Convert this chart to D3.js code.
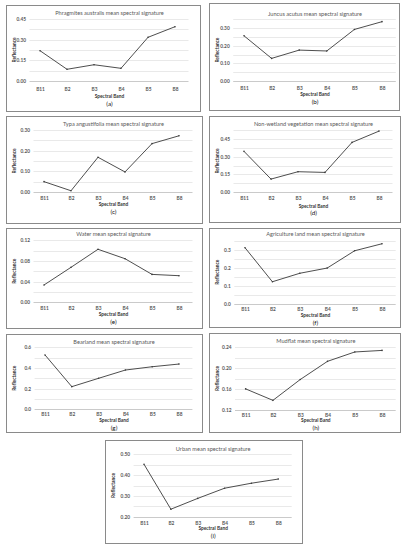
<!DOCTYPE html>
<html>
<head>
<meta charset="utf-8">
<script src="https://cdn.jsdelivr.net/npm/d3@7"></script>
<style>
html,body{margin:0;padding:0;background:#fff;}
svg{display:block;}
</style>
</head>
<body>
<svg id="chart" width="404" height="550"></svg>
<script>
// ---------- data ----------
const bands = ["B11", "B2", "B3", "B4", "B5", "B8"];
const titles = [
  "Phragmites australis mean spectral signature",
  "Juncus acutus mean spectral signature",
  "Typa angustifolia mean spectral signature",
  "Non-wetland vegetation mean spectral signature",
  "Water mean spectral signature",
  "Agriculture land mean spectral signature",
  "Bearland mean spectral signature",
  "Mudflat mean spectral signature",
  "Urban mean spectral signature"
];
const letters = ["(a)", "(b)", "(c)", "(d)", "(e)", "(f)", "(g)", "(h)", "(i)"];
const phragmites = [0.220, 0.085, 0.118, 0.092, 0.317, 0.394];
const juncus     = [0.256, 0.128, 0.175, 0.170, 0.292, 0.336];
const typa       = [0.050, 0.006, 0.168, 0.097, 0.234, 0.272];
const nonWetland = [0.344, 0.111, 0.173, 0.167, 0.419, 0.514];
const water      = [0.0335, 0.0677, 0.1026, 0.0844, 0.054, 0.0515];
const agriculture= [0.311, 0.122, 0.169, 0.198, 0.294, 0.333];
const bearland   = [0.526, 0.219, 0.300, 0.380, 0.412, 0.438];
const mudflat    = [0.160, 0.138, 0.178, 0.213, 0.231, 0.234];
const urban      = [0.452, 0.236, 0.288, 0.337, 0.361, 0.381];
const seriesList = [phragmites, juncus, typa, nonWetland, water, agriculture, bearland, mudflat, urban];
const yDomains = [[0,0.45],[0,0.35],[0,0.30],[0,0.525],[0,0.12],[0,0.35],[0,0.6],[0.12,0.24],[0.2,0.5]];
const yTickValues = [
  [0, 0.15, 0.30, 0.45],
  [0, 0.10, 0.20, 0.30],
  [0, 0.10, 0.20, 0.30],
  [0, 0.15, 0.30, 0.45],
  [0, 0.04, 0.08, 0.12],
  [0, 0.1, 0.2, 0.3],
  [0, 0.2, 0.4, 0.6],
  [0.12, 0.16, 0.20, 0.24],
  [0.20, 0.30, 0.40, 0.50]
];
const yTickFormats = [".2f", ".2f", ".2f", ".2f", ".2f", ".1f", ".1f", ".2f", ".2f"];
const gridSteps = [0.075, 0.05, 0.05, 0.075, 0.02, 0.05, 0.1, 0.02, 0.05];

// ---------- layout (positions only) ----------
const boxes = [
  [6,5,200,111],[209,3,399,110],
  [6,116,202,223],[209,116,400,222],
  [6,228,202,328],[209,228,400,327],
  [6,334,202,432],[209,333,400,432],
  [105,440,302,543]
];
const xRanges = [[26.5,188.5],[230.2,395.8],[30.5,192.5],[230.5,392.5],[30.5,192.5],[231.3,395.7],[31.6,192.4],[232,395.7],[130.6,291.7]];
const yRanges = [[81,19],[81,19.2],[192,130],[192.3,129.8],[302.3,240.3],[303.7,240.7],[409.3,347.3],[409.7,347.3],[516.7,454.3]];
const titleY = [13,14,124,124,234,234,342.5,341,449.5];
const xLabelY = [88.5,87.5,197.5,198.5,308,309,414.5,414.5,522.5];
const axisTitleY = [96.5,94.5,204.5,206,314.5,315.5,420.5,420.5,528.5];
const letterY = [103.5,101.5,211.5,213,321.5,322.5,427.5,427.5,535.5];

const svg = d3.select("#chart");
const FONT = "Lato, 'Open Sans', 'Liberation Sans', sans-serif";

seriesList.forEach((vals, i) => {
  const [bx0, by0, bx1, by1] = boxes[i];
  const g = svg.append("g");
  g.append("rect")
    .attr("x", bx0 + 0.5).attr("y", by0 + 0.5)
    .attr("width", bx1 - bx0).attr("height", by1 - by0)
    .attr("fill", "#fff").attr("stroke", "#8a8a8a").attr("stroke-width", 1);

  const x = d3.scalePoint().domain(bands).range(xRanges[i]).padding(0.5);
  const y = d3.scaleLinear().domain(yDomains[i]).range(yRanges[i]);

  const [d0, d1] = yDomains[i];
  const n = Math.round((d1 - d0) / gridSteps[i]);
  const gridVals = d3.range(1, n + 1).map(k => d0 + k * gridSteps[i]);
  const [gx0, gx1] = xRanges[i];
  g.selectAll("line.grid").data(gridVals).enter().append("line")
    .attr("class", "grid")
    .attr("x1", gx0 + 3).attr("x2", gx1)
    .attr("y1", d => Math.round(y(d)) + 0.5).attr("y2", d => Math.round(y(d)) + 0.5)
    .attr("stroke", "#e3e3e3").attr("stroke-width", 0.8);

  const xAxis = d3.axisBottom(x).tickSize(0).tickPadding(0);
  const ax = g.append("g").attr("transform", `translate(0,${Math.round(y(d0)) + 0.5})`).call(xAxis);
  ax.select(".domain").attr("stroke", "#c4c4c4").attr("stroke-width", 0.9)
    .attr("d", `M${gx0 + 3},0H${gx1}`);
  ax.selectAll("text")
    .attr("y", xLabelY[i] - y(d0))
    .attr("dy", "0.35em")
    .attr("fill", "#595959")
    .style("font", `bold 4.8px ${FONT}`);

  const yAxis = d3.axisLeft(y).tickValues(yTickValues[i]).tickFormat(d3.format(yTickFormats[i])).tickSize(0).tickPadding(0);
  const ay = g.append("g").attr("transform", `translate(${gx0 - 0.5},0)`).call(yAxis);
  ay.select(".domain").remove();
  ay.selectAll("text").attr("fill", "#595959").style("font", `bold 4.8px ${FONT}`);

  const line = d3.line().x((d, j) => x(bands[j])).y(d => y(d));
  g.append("path").datum(vals)
    .attr("d", line)
    .attr("fill", "none").attr("stroke", "#3a3a3a").attr("stroke-width", 0.9);
  g.selectAll("circle.pt").data(vals).enter().append("circle")
    .attr("class", "pt")
    .attr("cx", (d, j) => x(bands[j])).attr("cy", d => y(d))
    .attr("r", 0.8).attr("fill", "#3a3a3a");

  const cx = (gx0 + gx1) / 2 + 2;
  g.append("text").attr("x", cx).attr("y", titleY[i]).attr("dy", "0.35em")
    .attr("text-anchor", "middle").attr("fill", "#595959")
    .style("font", `5.6px ${FONT}`).text(titles[i]);

  const yMid = (yRanges[i][0] + yRanges[i][1]) / 2;
  g.append("text")
    .attr("transform", `translate(${bx0 + 8},${yMid}) rotate(-90)`)
    .attr("dy", "0.35em")
    .attr("text-anchor", "middle").attr("fill", "#333")
    .style("font", `bold 4.8px ${FONT}`).text("Reflectance");

  g.append("text").attr("x", cx).attr("y", axisTitleY[i]).attr("dy", "0.35em")
    .attr("text-anchor", "middle").attr("fill", "#333")
    .style("font", `bold 4.8px ${FONT}`).text("Spectral Band");

  g.append("text").attr("x", cx).attr("y", letterY[i]).attr("dy", "0.35em")
    .attr("text-anchor", "middle").attr("fill", "#111")
    .style("font", `6.3px ${FONT}`).text(letters[i]);
});
</script>
</body>
</html>
